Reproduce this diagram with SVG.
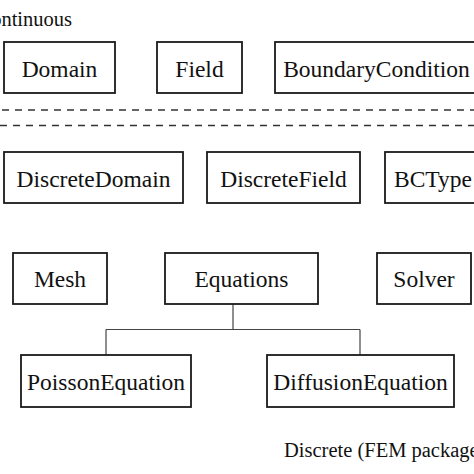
<svg xmlns="http://www.w3.org/2000/svg" width="474" height="474" viewBox="0 0 474 474" font-family="Liberation Serif, Times New Roman, serif">
<style>
.box{fill:#fff;stroke:#1a1a1a;stroke-width:1.8}
.lbl{font-family:'Liberation Serif','Times New Roman',serif;font-size:23.5px;fill:#111;text-anchor:middle}
.cap{font-family:'Liberation Serif','Times New Roman',serif;font-size:20.5px;fill:#111}
.dash{stroke:#333;stroke-width:1.3;stroke-dasharray:7 6;fill:none}
.conn{stroke:#444;stroke-width:1.2;fill:none}
</style>
<rect width="474" height="474" fill="#fff"/>
<text class="cap" x="-22.5" y="26">Continuous</text>
<line class="dash" x1="2" y1="110" x2="474" y2="110"/>
<line class="dash" x1="0" y1="125.5" x2="474" y2="125.5"/>
<g id="connectors">
<path class="conn" d="M233,304 V329.5 M106,329.5 H360 M106,329.5 V355 M360,329.5 V355"/>
</g>
<g id="Domain"><rect class="box" x="4" y="42" width="111" height="51"/><text class="lbl" x="59.5" y="76.5">Domain</text></g>
<g id="Field"><rect class="box" x="157" y="42" width="85" height="51"/><text class="lbl" x="199.5" y="76.5">Field</text></g>
<g id="BoundaryCondition"><rect class="box" x="275" y="42" width="210" height="51"/><text class="lbl" x="376.5" y="76.5">BoundaryCondition</text></g>
<g id="DiscreteDomain"><rect class="box" x="4" y="152" width="179" height="51"/><text class="lbl" x="93.5" y="186.5">DiscreteDomain</text></g>
<g id="DiscreteField"><rect class="box" x="207" y="152" width="153" height="51"/><text class="lbl" x="283.5" y="186.5">DiscreteField</text></g>
<g id="BCType"><rect class="box" x="385" y="152" width="100" height="51"/><text class="lbl" x="433" y="186.5">BCType</text></g>
<g id="Mesh"><rect class="box" x="13" y="253" width="94" height="51"/><text class="lbl" x="60" y="287.3">Mesh</text></g>
<g id="Equations"><rect class="box" x="165" y="253" width="153" height="51"/><text class="lbl" x="241.5" y="287.3">Equations</text></g>
<g id="Solver"><rect class="box" x="377" y="253" width="94" height="51"/><text class="lbl" x="424" y="287.3">Solver</text></g>
<g id="PoissonEquation"><rect class="box" x="21" y="355" width="170" height="52"/><text class="lbl" x="106" y="389.8">PoissonEquation</text></g>
<g id="DiffusionEquation"><rect class="box" x="267" y="355" width="187" height="52"/><text class="lbl" x="360.5" y="389.8">DiffusionEquation</text></g>
<text class="cap" x="284" y="457">Discrete (FEM package)</text>
</svg>
